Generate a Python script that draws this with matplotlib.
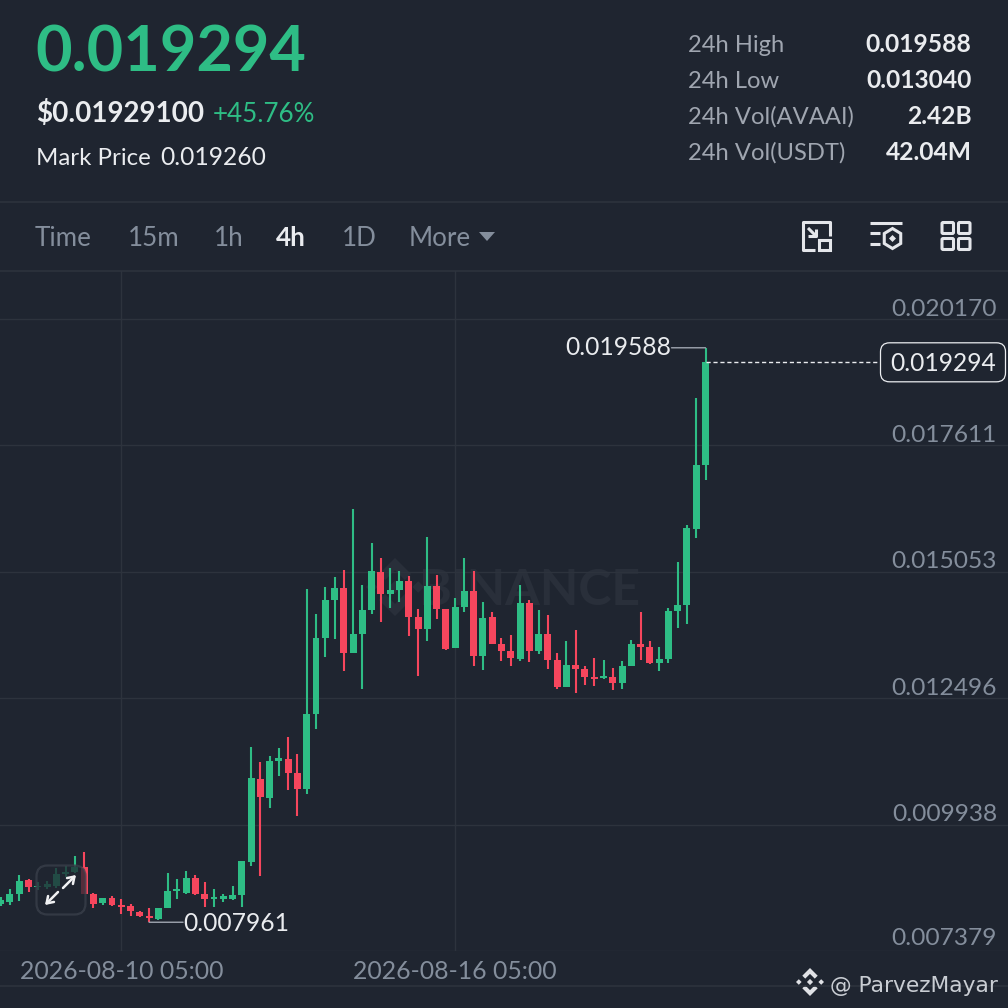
import matplotlib
matplotlib.use("Agg")
import matplotlib.pyplot as plt
from matplotlib.patches import FancyBboxPatch, Polygon, Rectangle
import numpy as np

# candles, prices in millionths of USDT
opens = [8330, 8377, 8527, 8816, 8680, 8680, 8695, 8944, 8978, 9073, 8533, 8344, 8458, 8316, 8290, 8174, 8087,
         8027, 8255, 8587, 8547, 8863, 8533, 8438, 8438, 8431, 8512, 9174, 10860, 10482, 11231, 11265, 10982,
         10652, 12176, 13714, 14483, 14720, 13404, 13795, 14281, 15050, 14611, 14680, 14874, 14139, 13902, 14767,
         14295, 13506, 14342, 14671, 13356, 14139, 13587, 13457, 13289, 14429, 13457, 13795, 13263, 12716, 13168,
         13081, 12931, 12905, 12925, 12797, 13153, 13593, 13526, 13214, 13289, 14267, 14382, 15920, 17216]
highs = [8478, 8628, 8917, 8836, 8782, 8802, 9053, 9099, 9302, 9389, 8559, 8446, 8486, 8431, 8324, 8195, 8243,
         8255, 8958, 8836, 8992, 8917, 8776, 8628, 8527, 8695, 9201, 11502, 11198, 11326, 11482, 11704, 11366,
         14700, 14194, 14746, 14955, 15097, 16331, 14787, 15637, 15333, 15137, 15076, 14963, 14295, 15764, 14983,
         14301, 14530, 15333, 15070, 14437, 14246, 13708, 13775, 14781, 14483, 14281, 14180, 13404, 13647, 13876,
         13147, 13303, 13263, 13107, 13255, 13680, 14246, 13660, 13526, 14315, 15246, 15991, 18578, 19588]
lows = [8290, 8310, 8397, 8579, 8614, 8628, 8654, 8877, 8952, 8533, 8255, 8310, 8290, 8128, 8087, 8067, 7961,
        8013, 8255, 8431, 8533, 8512, 8263, 8263, 8377, 8411, 8263, 9099, 8903, 10279, 10915, 10644, 10111,
        10563, 11866, 13336, 13700, 13052, 13404, 12676, 14200, 14044, 14321, 14437, 13755, 12951, 13660, 14105,
        13477, 13506, 14246, 13147, 13066, 13587, 13255, 13153, 13255, 13234, 13384, 13087, 12676, 12716, 12607,
        12763, 12749, 12890, 12662, 12682, 13153, 13269, 13188, 13040, 13202, 13911, 13991, 15732, 16912]
closes = [8411, 8533, 8802, 8668, 8701, 8729, 8931, 8984, 9073, 8533, 8330, 8446, 8310, 8276, 8183, 8093, 8053,
          8255, 8593, 8628, 8863, 8533, 8425, 8466, 8486, 8512, 9201, 10874, 10490, 11231, 11279, 10982, 10658,
          12176, 13714, 14483, 14720, 13404, 13795, 14281, 15064, 14611, 14680, 14874, 14139, 13896, 14767, 14295,
          13498, 14342, 14671, 13356, 14119, 13587, 13457, 13303, 14429, 13457, 13795, 13269, 12716, 13168, 13087,
          12931, 12884, 12951, 12797, 13147, 13593, 13526, 13202, 13289, 14261, 14382, 15934, 17216, 19294]

grid_prices = [7379, 9938, 12496, 15053, 17611, 20170]
grid_labels = ["0.007379", "0.009938", "0.012496", "0.015053", "0.017611", "0.020170"]
date_idx = [13, 49]
date_labels = ["2026-08-10 05:00", "2026-08-16 05:00"]
frames = ["Time", "15m", "1h", "4h", "1D", "More"]
stats_names = ["24h High", "24h Low", "24h Vol(AVAAI)", "24h Vol(USDT)"]
stats_values = ["0.019588", "0.013040", "2.42B", "42.04M"]

BG = "#1f2530"
GRID = "#2d333d"
GREEN = "#2ebd85"
RED = "#f6465d"
GRAY = "#848e9c"
LIGHT = "#eaecef"
WATERMARK = "#292f3a"
FONT = "Lato"


def px(size):
    return size * 0.72


def pixel_axes(zorder):
    a = fig.add_axes([0, 0, 1, 1], facecolor="none", zorder=zorder)
    a.set_xlim(0, 1008)
    a.set_ylim(1008, 0)
    a.axis("off")
    return a


def binance_logo(a, cx, cy, s, color):
    # four outer chevrons simplified to small diamonds round a centre one
    def diamond(dx, dy, r):
        pts = [(cx + dx, cy + dy - r), (cx + dx + r, cy + dy), (cx + dx, cy + dy + r), (cx + dx - r, cy + dy)]
        a.add_patch(Polygon(pts, fc=color, ec="none"))

    diamond(0, 0, s * 0.22)
    diamond(-s * 0.8, 0, s * 0.2)
    diamond(s * 0.8, 0, s * 0.2)
    for sign in [-1, 1]:
        a.add_patch(Polygon([(cx, cy + sign * s), (cx + s * 0.55, cy + sign * s * 0.45),
                             (cx + s * 0.34, cy + sign * s * 0.24), (cx, cy + sign * s * 0.58),
                             (cx - s * 0.34, cy + sign * s * 0.24), (cx - s * 0.55, cy + sign * s * 0.45)],
                            fc=color, ec="none"))


def marker(idx, price, label, dx, text_dy):
    # straight leader from the wick tip, label at its far end
    ax.annotate("", xy=(idx, price), xytext=(px(dx), 0), textcoords="offset points", zorder=6,
                arrowprops=dict(arrowstyle="-", color="#a0a6b0", lw=1, shrinkA=0, shrinkB=0))
    ax.annotate(label, xy=(idx, price), xytext=(px(dx), px(text_dy)), textcoords="offset points",
                ha="right" if dx < 0 else "left", va="center", color=LIGHT, fontsize=px(24.6), zorder=6)


plt.rcParams["font.family"] = [FONT, "DejaVu Sans"]

fig = plt.figure(figsize=(10.08, 10.08), dpi=100, facecolor=BG)

# watermark goes behind the candles
back = pixel_axes(0)
binance_logo(back, 395, 587, 29, WATERMARK)
back.text(419, 605, "BINANCE", color=WATERMARK, fontsize=px(50), fontweight="bold", va="baseline")

# chart area, 271..951 px down the picture
ax = fig.add_axes([0, 57 / 1008, 1, 680 / 1008], facecolor="none", zorder=1)
ax.set_xlim(-0.7 / 9.274, 1007.3 / 9.274)
ax.set_ylim(7379, 21142)
for s in ax.spines.values():
    s.set_visible(False)
ax.set_yticks(grid_prices)
ax.set_xticks(date_idx)
ax.set_xticklabels(date_labels, fontsize=px(24.8), color=GRAY)
ax.tick_params(axis="both", length=0)
ax.tick_params(axis="x", pad=6.5)
ax.tick_params(axis="y", labelleft=False)
ax.grid(True, color=GRID, lw=1.0)
ax.set_axisbelow(True)

x = np.arange(len(opens))
o = np.array(opens)
c = np.array(closes)
up = c >= o
cols = np.where(up, GREEN, RED)
ax.vlines(x, lows, highs, colors=cols, lw=1.5, zorder=3)
ax.bar(x, np.abs(c - o), bottom=np.minimum(o, c), width=0.75, color=cols, lw=0, zorder=4)

# grid labels sit just above their lines
for price, label in zip(grid_prices, grid_labels):
    pad = 1.2 if price == grid_prices[0] else -0.4
    ax.annotate(label, xy=(997, price), xycoords=("figure pixels", "data"), xytext=(0, pad),
                textcoords="offset points", ha="right", va="bottom", color=GRAY, fontsize=px(24.5))

# high / low markers
hi = int(np.argmax(highs))
lo = int(np.argmin(lows))
marker(hi, highs[hi], "0.019588", -34, 0)
marker(lo, lows[lo], "0.007961", 34, -1)

# last price
ax.plot([x[-1], 94.8], [closes[-1], closes[-1]], color=LIGHT, lw=1, dashes=(3, 2), zorder=5)

# everything else is screen furniture, in pixels from the top left
ui = pixel_axes(5)

last_y = 1008 - ax.transData.transform((0, closes[-1]))[1]
ui.add_patch(FancyBboxPatch((880.5, last_y - 19.5), 125, 39, boxstyle="round,pad=0,rounding_size=9", fc=BG,
                            ec=LIGHT, lw=0.9))
ui.text(943.5, last_y + 8.5, "0.019294", ha="center", va="baseline", color=LIGHT, fontsize=px(24.6))

for y in [201.5, 271, 986]:
    ui.plot([0, 1008], [y, y], color=GRID, lw=1.2)

ui.text(35, 72, "0.019294", color=GREEN, fontsize=px(63), fontweight="bold", va="baseline")
ui.text(36, 122, "$0.01929100", color=LIGHT, fontsize=px(27.7), fontweight="bold", va="baseline")
ui.text(213, 122, "+45.76%", color=GREEN, fontsize=px(26), va="baseline")
ui.text(36, 165, "Mark Price", color=LIGHT, fontsize=px(24), va="baseline")
ui.text(160, 165, "0.019260", color=LIGHT, fontsize=px(24.6), va="baseline")

for name, value, y in zip(stats_names, stats_values, [52, 88, 124, 160]):
    ui.text(688, y, name, color="#a0a6b0", fontsize=px(23.7), va="baseline")
    ui.text(971.5, y, value, color=LIGHT, fontsize=px(24.6), fontweight="bold", ha="right", va="baseline")

for label, fx in zip(frames, [35, 128, 214, 276, 342, 409]):
    active = label == "4h"
    ui.text(fx, 246, label, color=LIGHT if active else GRAY, fontsize=px(26),
            fontweight="bold" if active else "normal", va="baseline")
ui.add_patch(Polygon([(479, 232), (495, 232), (487, 241)], fc=GRAY, ec="none"))

# toolbar icons
ic = dict(color="#e4e6ea", lw=2.2, solid_capstyle="butt", solid_joinstyle="round")
ui.plot([815, 803, 803, 830, 830], [250, 250, 222, 222, 236], **ic)
ui.add_patch(Rectangle((819, 240), 10.5, 10, fc="none", ec="#e4e6ea", lw=2.2))
ui.plot([808, 816], [228, 236], **ic)
ui.plot([808, 816, 816], [236, 236, 229], **ic)

ui.plot([870, 902], [222.5, 222.5], **ic)
ui.plot([870, 880], [233, 233], **ic)
ui.plot([870, 880], [243.5, 243.5], **ic)
ang = np.deg2rad(np.arange(6) * 60 + 30)
ui.add_patch(Polygon(np.c_[892.5 + 9.5 * np.cos(ang), 238.5 + 10 * np.sin(ang)], fc="none", ec="#e4e6ea", lw=2.2))
ui.add_patch(Polygon([(892.5, 235), (896, 238.5), (892.5, 242), (889, 238.5)], fc="#e4e6ea", ec="none"))

for bx in [942, 958.5]:
    for by in [222.5, 238.5]:
        ui.add_patch(FancyBboxPatch((bx, by), 11.5, 11, boxstyle="round,pad=0,rounding_size=1.2", fc="none",
                                    ec="#e4e6ea", lw=2.2))

binance_logo(ui, 810, 982, 14, "#dfe1e5")
ui.text(830, 992, "@ ParvezMayar", color="#c9cdd3", fontsize=px(21.8), family="DejaVu Sans", va="baseline")

# expand button over the chart
ui.add_patch(FancyBboxPatch((36.5, 865.5), 49, 49, boxstyle="round,pad=0,rounding_size=11", fc=BG, ec="#3b414c",
                            lw=1.6, alpha=0.75))
ui.annotate("", xy=(76, 875), xytext=(63, 888),
            arrowprops=dict(arrowstyle="->,head_length=0.45,head_width=0.3", color="#f0f1f3", lw=1.8, shrinkA=0, shrinkB=0))
ui.annotate("", xy=(45, 905), xytext=(58, 892),
            arrowprops=dict(arrowstyle="->,head_length=0.45,head_width=0.3", color="#f0f1f3", lw=1.8, shrinkA=0, shrinkB=0))

fig.savefig("out.png", dpi=100, facecolor=BG)
